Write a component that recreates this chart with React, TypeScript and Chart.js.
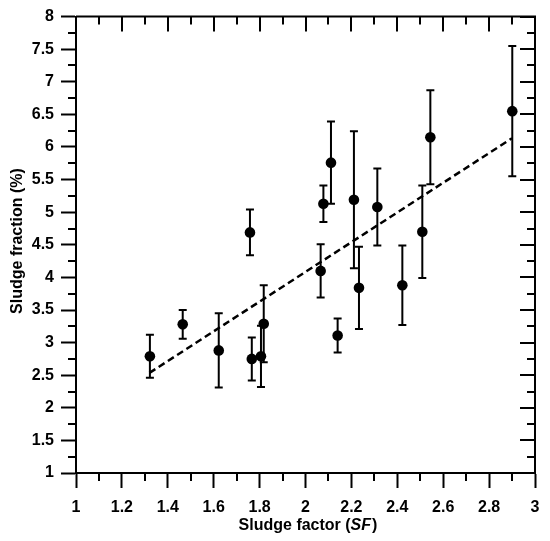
import React, { useEffect, useRef } from "react";
import { Chart, registerables } from "chart.js";

Chart.register(...registerables);

const sludgeFactor = [1.322, 1.465, 1.622, 1.766, 1.758, 1.806, 1.818, 2.066, 2.078, 2.111, 2.14, 2.211, 2.233, 2.313, 2.422, 2.509, 2.544, 2.901];
const sludgeFraction = [2.79, 3.28, 2.88, 2.75, 4.69, 2.79, 3.29, 4.1, 5.13, 5.76, 3.11, 5.19, 3.84, 5.08, 3.88, 4.7, 6.15, 6.55];
const fractionError = [0.33, 0.22, 0.57, 0.33, 0.35, 0.47, 0.59, 0.41, 0.28, 0.63, 0.26, 1.05, 0.63, 0.59, 0.61, 0.71, 0.72, 1.0];
const trendX = [1.32, 2.9];
const trendY = [2.535, 6.135];

const xMin = 1, xMax = 3, xStep = 0.2;
const yMin = 1, yMax = 8, yStep = 0.5;

const FONT = '"Liberation Sans", Arial, sans-serif';
const fmt = (v: any) => String(Math.round(Number(v) * 10) / 10);

const frameAndErrors = {
  id: "frameAndErrors",
  beforeDatasetsDraw(chart: any) {
    const ctx = chart.ctx;
    const xs = chart.scales.x;
    const ys = chart.scales.y;
    ctx.save();
    ctx.strokeStyle = "#000";
    ctx.lineWidth = 2;
    for (let i = 0; i < sludgeFactor.length; i++) {
      const px = xs.getPixelForValue(sludgeFactor[i]);
      const top = ys.getPixelForValue(sludgeFraction[i] + fractionError[i]);
      const bot = ys.getPixelForValue(sludgeFraction[i] - fractionError[i]);
      ctx.beginPath();
      ctx.moveTo(px, top);
      ctx.lineTo(px, bot);
      ctx.moveTo(px - 4, top);
      ctx.lineTo(px + 4, top);
      ctx.moveTo(px - 4, bot);
      ctx.lineTo(px + 4, bot);
      ctx.stroke();
    }
    ctx.restore();
  },
  afterDraw(chart: any) {
    const ctx = chart.ctx;
    const xs = chart.scales.x;
    const ys = chart.scales.y;
    const a = chart.chartArea;
    ctx.save();
    ctx.strokeStyle = "#000";
    ctx.lineWidth = 2;
    ctx.beginPath();
    ctx.moveTo(a.left, a.top);
    ctx.lineTo(a.right, a.top);
    ctx.lineTo(a.right, a.bottom);
    ctx.stroke();
    const nx = Math.round((xMax - xMin) / (xStep / 2));
    for (let i = 0; i <= nx; i++) {
      const v = xMin + (i * xStep) / 2;
      const px = Math.round(xs.getPixelForValue(v));
      const major = i % 2 === 0;
      ctx.beginPath();
      if (!major) {
        ctx.moveTo(px, a.bottom);
        ctx.lineTo(px, a.bottom + 8);
      }
      ctx.moveTo(px, a.top);
      ctx.lineTo(px, a.top + (major ? 15 : 8));
      ctx.stroke();
    }
    const ny = Math.round((yMax - yMin) / (yStep / 2));
    for (let i = 0; i <= ny; i++) {
      const v = yMin + (i * yStep) / 2;
      const py = Math.round(ys.getPixelForValue(v));
      const major = i % 2 === 0;
      ctx.beginPath();
      if (!major) {
        ctx.moveTo(a.left, py);
        ctx.lineTo(a.left - 8, py);
      }
      ctx.moveTo(a.right, py);
      ctx.lineTo(a.right - (major ? 15 : 8), py);
      ctx.stroke();
    }
    ctx.fillStyle = "#000";
    ctx.textBaseline = "alphabetic";
    ctx.textAlign = "left";
    const p1 = "Sludge factor (";
    const p2 = "SF";
    const p3 = ")";
    const fN = `bold 16px ${FONT}`;
    const fI = `italic bold 16px ${FONT}`;
    ctx.font = fN;
    const w1 = ctx.measureText(p1).width;
    const w3 = ctx.measureText(p3).width;
    ctx.font = fI;
    const w2 = ctx.measureText(p2).width;
    const total = w1 + w2 + w3;
    const sx = (a.left + a.right) / 2 + 2 - total / 2;
    const by = 530;
    ctx.font = fN;
    ctx.fillText(p1, sx, by);
    ctx.font = fI;
    ctx.fillText(p2, sx + w1, by);
    ctx.font = fN;
    ctx.fillText(p3, sx + w1 + w2 + 1, by);
    ctx.save();
    ctx.translate(22, 241);
    ctx.rotate(-Math.PI / 2);
    ctx.textAlign = "center";
    ctx.font = fN;
    ctx.fillText("Sludge fraction (%)", 0, 0);
    ctx.restore();
    ctx.restore();
  },
};

export default function App() {
  const ref = useRef<HTMLCanvasElement | null>(null);
  useEffect(() => {
    if (!ref.current) return;
    const chart = new Chart(ref.current, {
      type: "scatter",
      data: {
        datasets: [
          {
            type: "line",
            data: trendX.map((x, i) => ({ x, y: trendY[i] })),
            borderColor: "#000",
            borderWidth: 2.5,
            borderDash: [7, 4],
            pointRadius: 0,
            fill: false,
          } as any,
          {
            type: "scatter",
            data: sludgeFactor.map((x, i) => ({ x, y: sludgeFraction[i] })),
            backgroundColor: "#000",
            borderColor: "#000",
            pointRadius: 5.3,
            borderWidth: 0,
          },
        ],
      },
      options: {
        responsive: false,
        animation: false,
        events: [],
        layout: { padding: { left: 0, right: 15, top: 15, bottom: 0 } },
        plugins: { legend: { display: false }, tooltip: { enabled: false } },
        scales: {
          x: {
            type: "linear",
            min: xMin,
            max: xMax,
            afterFit: (s: any) => {
              s.height = 68;
            },
            ticks: {
              stepSize: xStep,
              color: "#000",
              padding: 10,
              callback: fmt,
              font: { family: FONT, size: 16, weight: "bold" },
              maxRotation: 0,
              autoSkip: false,
            },
            grid: {
              display: true,
              drawOnChartArea: false,
              drawTicks: true,
              tickLength: 15,
              tickWidth: 2,
              tickColor: "#000",
            },
            border: { display: true, color: "#000", width: 2 },
          },
          y: {
            type: "linear",
            min: yMin,
            max: yMax,
            afterFit: (s: any) => {
              s.width = 76;
            },
            ticks: {
              stepSize: yStep,
              color: "#000",
              padding: 7,
              callback: fmt,
              autoSkip: false,
              font: { family: FONT, size: 16, weight: "bold" },
            },
            grid: {
              display: true,
              drawOnChartArea: false,
              drawTicks: true,
              tickLength: 15,
              tickWidth: 2,
              tickColor: "#000",
            },
            border: { display: true, color: "#000", width: 2 },
          },
        },
      },
      plugins: [frameAndErrors],
    });
    return () => chart.destroy();
  }, []);
  return (
    <div style={{ position: "fixed", left: 0, top: 0, width: 550, height: 541, background: "#fff" }}>
      <canvas ref={ref} width={550} height={541} style={{ display: "block", width: 550, height: 541 }} />
    </div>
  );
}
